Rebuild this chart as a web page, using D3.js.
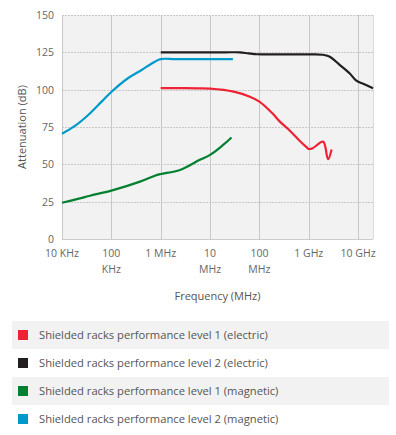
<!DOCTYPE html>
<html>
<head>
<style>
  body { margin: 0; background: #fff; font-family: "Open Sans", sans-serif; }
</style>
</head>
<body>
<div id="chart"></div>
<script src="https://d3js.org/d3.v7.min.js"></script>
<script>
// frequencies in MHz, attenuation in dB
var seriesNames = [
  "Shielded racks performance level 1 (electric)",
  "Shielded racks performance level 2 (electric)",
  "Shielded racks performance level 1 (magnetic)",
  "Shielded racks performance level 2 (magnetic)"
];
var seriesColors = ["#ee2233", "#221e1f", "#008030", "#0099cc"];

var redFreq = [1, 3, 6, 10, 30, 64, 100, 185, 259, 400, 658, 900, 1000, 1200, 1950, 2450, 2900];
var redVals = [101, 101, 100.9, 100.7, 98.7, 95.3, 92, 84, 78.6, 73, 65.6, 61.5, 60.3, 60.8, 65.2, 53.4, 60];

var blackFreq = [1, 5, 20, 40, 60, 90, 300, 1000, 1900, 2600, 4270, 6700, 9200, 13000, 20000];
var blackVals = [125, 125, 125, 125, 124.3, 123.7, 123.6, 123.6, 123.4, 122.2, 116.5, 111, 106, 103.8, 101];

var greenFreq = [0.01, 0.023, 0.037, 0.1, 0.38, 0.76, 1, 2.45, 6.2, 10, 18.4, 27.2];
var greenVals = [24.3, 27.2, 29, 32.4, 38.4, 42.4, 43.5, 46.2, 53, 56.3, 63, 68];

var blueFreq = [0.01, 0.0183, 0.034, 0.0636, 0.101, 0.22, 0.41, 0.76, 1, 2, 8, 29];
var blueVals = [70.5, 75.7, 83, 92, 98.6, 107.8, 113.2, 118.7, 120.5, 120.5, 120.5, 120.5];

var xTicks = [0.01, 0.1, 1, 10, 100, 1000, 10000];
var xTickLabels = [["10 KHz"], ["100", "KHz"], ["1 MHz"], ["10", "MHz"], ["100", "MHz"], ["1 GHz"], ["10 GHz"]];
var yTicks = [0, 25, 50, 75, 100, 125, 150];

var width = 396, height = 435;
var mLeft = 62, mRight = 373, mTop = 15, mBottom = 239;

var svg = d3.select("#chart").append("svg")
  .attr("width", width)
  .attr("height", height);

var x = d3.scaleLog().domain([0.01, 20000]).range([mLeft, mRight]);
var y = d3.scaleLinear().domain([0, 150]).range([mBottom, mTop]);

// plot background
svg.append("rect")
  .attr("x", mLeft).attr("y", mTop)
  .attr("width", mRight - mLeft).attr("height", mBottom - mTop)
  .attr("fill", "#f2f2f2");

// horizontal grid
svg.selectAll(".hgrid").data(yTicks).enter().append("line")
  .attr("x1", mLeft).attr("x2", mRight)
  .attr("y1", function(d) { return Math.round(y(d)) + 0.5; })
  .attr("y2", function(d) { return Math.round(y(d)) + 0.5; })
  .attr("stroke", d => d === 0 ? "#ccc" : "#c8c8c8")
  .attr("stroke-dasharray", d => d === 0 ? null : "2,1");

// vertical grid
svg.selectAll(".vgrid").data(xTicks.concat([20000])).enter().append("line")
  .attr("x1", function(d) { return Math.round(x(d)) + 0.5; })
  .attr("x2", function(d) { return Math.round(x(d)) + 0.5; })
  .attr("y1", mTop).attr("y2", mBottom)
  .attr("stroke", d => d === 20000 ? "#dcdcdc" : "#c8c8c8");

// y tick labels
svg.selectAll(".ylab").data(yTicks).enter().append("text")
  .attr("x", 54)
  .attr("y", function(d) { return y(d) + 4; })
  .attr("text-anchor", "end")
  .attr("font-size", "10.5px")
  .attr("fill", "#666")
  .text(function(d) { return d; });

// x tick labels
xTicks.forEach(function(t, i) {
  var txt = svg.append("text")
    .attr("text-anchor", "middle")
    .attr("font-size", "10.5px")
    .attr("fill", "#666");
  xTickLabels[i].forEach(function(line, j) {
    txt.append("tspan")
      .attr("x", x(t))
      .attr("y", 257 + j * 16)
      .text(line);
  });
});

// axis titles
svg.append("text")
  .attr("transform", "translate(26," + ((mTop + mBottom) / 2) + ") rotate(-90)")
  .attr("text-anchor", "middle")
  .attr("font-size", "11px")
  .attr("fill", "#555")
  .text("Attenuation (dB)");

svg.append("text")
  .attr("x", (mLeft + mRight) / 2)
  .attr("y", 300)
  .attr("text-anchor", "middle")
  .attr("font-size", "11px")
  .attr("fill", "#555")
  .text("Frequency (MHz)");

// lines
var line = d3.line()
  .x(function(d) { return x(d[0]); })
  .y(function(d) { return y(d[1]); })
  .curve(d3.curveCatmullRom.alpha(0.5));

var series = [
  d3.zip(redFreq, redVals),
  d3.zip(blackFreq, blackVals),
  d3.zip(greenFreq, greenVals),
  d3.zip(blueFreq, blueVals)
];

series.forEach(function(s, i) {
  svg.append("path")
    .datum(s)
    .attr("d", line)
    .attr("fill", "none")
    .attr("stroke", seriesColors[i])
    .attr("stroke-width", 2.2)
    .attr("stroke-linejoin", "round");
});

// legend
var legend = svg.selectAll(".leg").data(seriesNames).enter().append("g")
  .attr("transform", function(d, i) { return "translate(12," + (321 + i * 28) + ")"; });

legend.append("rect")
  .attr("width", 377).attr("height", 28)
  .attr("fill", function(d, i) { return i % 2 === 0 ? "#f2f2f2" : "#fff"; });

legend.append("rect")
  .attr("x", 6).attr("y", 9)
  .attr("width", 10).attr("height", 10)
  .attr("fill", function(d, i) { return seriesColors[i]; });

legend.append("text")
  .attr("x", 27).attr("y", 18)
  .attr("font-size", "11.2px")
  .attr("fill", "#555")
  .text(function(d) { return d; });
</script>
</body>
</html>
